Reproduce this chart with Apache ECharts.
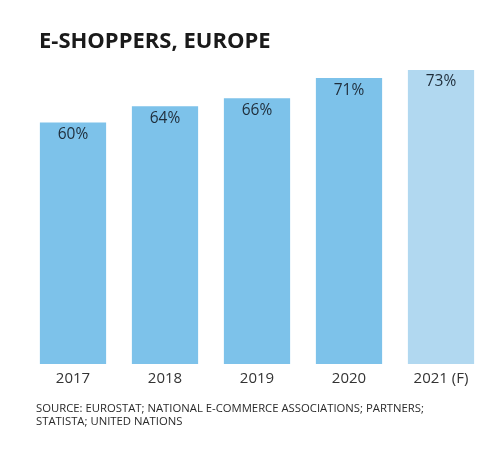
<!DOCTYPE html>
<html>
<head>
<meta charset="utf-8">
<script src="https://cdn.jsdelivr.net/npm/echarts@6/dist/echarts.min.js"></script>
<style>
html,body{margin:0;padding:0;background:#fff;}
#chart{width:502px;height:449px;}
</style>
</head>
<body>
<div id="chart"></div>
<script>
var categories = ['2017', '2018', '2019', '2020', '2021 (F)'];
var values = [60, 64, 66, 71, 73];
var forecastFlags = [false, false, false, false, true];

var chart = echarts.init(document.getElementById('chart'));
chart.setOption({
  animation: false,
  title: {
    text: 'E-SHOPPERS, EUROPE',
    left: 34,
    top: 26,
    textStyle: { fontFamily: 'Open Sans', fontWeight: 'bold', fontSize: 22, color: '#1a1a1a' }
  },
  grid: { left: 27, right: 15, top: 62, bottom: 85 },
  xAxis: {
    type: 'category',
    data: categories,
    axisLine: { show: false },
    axisTick: { show: false },
    axisLabel: { margin: 7, fontFamily: 'Open Sans', fontSize: 15, color: '#333' }
  },
  yAxis: {
    type: 'value',
    min: 0,
    max: 75,
    show: false,
    splitLine: { show: false }
  },
  series: [{
    type: 'bar',
    barCategoryGap: '28%',
    data: values.map(function (v, i) {
      return { value: v, itemStyle: { color: forecastFlags[i] ? '#B1D8F0' : '#7DC2EA' } };
    }),
    label: {
      show: true,
      position: 'insideTop',
      distance: 4,
      formatter: '{c}%',
      fontFamily: 'Open Sans',
      fontSize: 15.5,
      color: '#1f2d3a'
    }
  }],
  graphic: [{
    type: 'text',
    left: 36,
    top: 402,
    style: {
      text: 'SOURCE: EUROSTAT; NATIONAL E-COMMERCE ASSOCIATIONS; PARTNERS;\nSTATISTA; UNITED NATIONS',
      fontFamily: 'Open Sans',
      fontSize: 11.3,
      lineHeight: 13,
      fill: '#2a2a2a'
    }
  }]
});
</script>
</body>
</html>
